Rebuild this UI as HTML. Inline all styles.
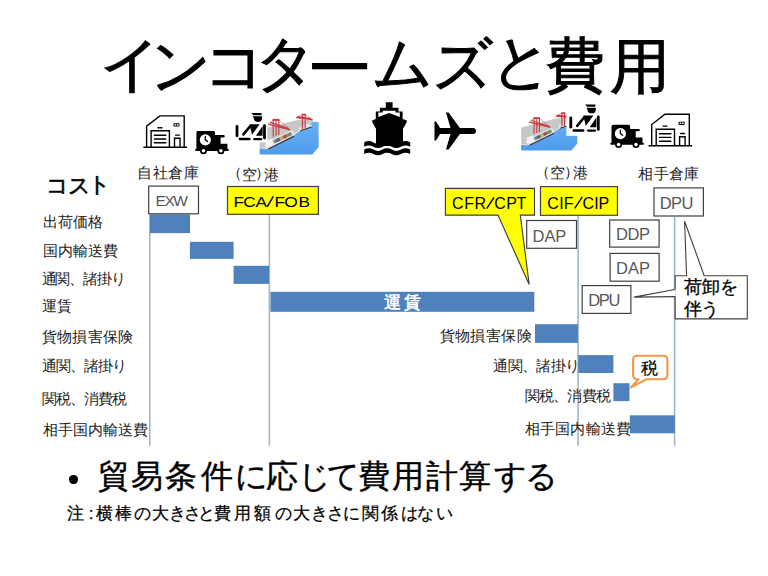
<!DOCTYPE html>
<html lang="ja">
<head>
<meta charset="utf-8">
<style>
html,body{margin:0;padding:0;background:#fff;}
body{width:768px;height:576px;position:relative;overflow:hidden;font-family:"Liberation Sans",sans-serif;color:#000;}
.t,.c{position:absolute;white-space:nowrap;line-height:1;}
.lbl{color:#1c1c1c;}
.bar{position:absolute;background:#4f81bd;}
svg{position:absolute;left:0;top:0;overflow:visible;}
</style>
</head>
<body>

<!-- ICONS -->
<svg style="left:0;top:0" width="768" height="576" viewBox="0 0 768 576">
<defs>
  <linearGradient id="wg" x1="0" y1="0" x2="0" y2="1"><stop offset="0" stop-color="#68b1f6"/><stop offset="1" stop-color="#4f9be9"/></linearGradient>
  <g id="wh" fill="none" stroke="#000" stroke-width="1.4">
    <path d="M0 0 H42.7" stroke-linecap="round"/>
    <path d="M2.7 0 V-21.2 L16 -31.4 H40.3 V0"/>
    <path d="M7.2 0 V-16.5 H25.5 V0"/>
    <path d="M10.5 -12 H21.9 M10.5 -8.3 H21.9 M10.5 -4.5 H21.9 M14 -19.6 H18 M31.6 -12.2 H35.5" stroke-linecap="round"/>
    <path d="M30.6 0 V-9 H36.1 V0"/>
    <rect x="29.6" y="-24" width="6" height="3.2" fill="#000" stroke="none" rx="0.6"/>
    <rect x="30.6" y="-23.1" width="1.7" height="1.4" fill="#fff" stroke="none"/>
    <rect x="33" y="-23.1" width="1.7" height="1.4" fill="#fff" stroke="none"/>
  </g>
  <g id="tr">
    <path d="M0 1.5 Q0 0 1.5 0 H17.1 Q18.6 0 18.6 1.5 V4.1 H27 Q28.4 4.1 28.4 5.3 Q28.4 6.5 27 6.5 H24.2 V12.7 H31 V19.2 H0 Z" fill="#000"/>
    <path d="M-0.2 18.9 H31.4" stroke="#000" stroke-width="2.1" stroke-linecap="round"/>
    <circle cx="7.1" cy="19.8" r="3.5" fill="#000"/>
    <circle cx="24.5" cy="19.8" r="3.5" fill="#000"/>
    <circle cx="7.1" cy="19.8" r="1.8" fill="#fff"/>
    <circle cx="24.5" cy="19.8" r="1.8" fill="#fff"/>
    <circle cx="8.9" cy="8.85" r="5.6" fill="#fff"/>
    <path d="M8.9 5.4 V8.85 L11.2 10.5" stroke="#000" stroke-width="1.3" fill="none" stroke-linecap="round" stroke-linejoin="round"/>
  </g>
  <g id="off" fill="#000">
    <path d="M19.2 3.1 H29.7 L29.4 5.3 H21.4 Z"/>
    <path d="M20.6 6.3 H30 V8 Q30 11.9 25.8 11.9 Q21.7 11.9 21.7 8 Z"/>
    <path d="M17.5 14.2 H27.6 L20 24.7 Z"/>
    <path d="M18.3 16.1 L11.4 24.4" stroke="#000" stroke-width="2.6" stroke-linecap="round"/>
    <path d="M23.9 25.8 H30.6 V16.1 Z"/>
    <rect x="31.1" y="14.2" width="2.8" height="15.2" rx="1.4"/>
    <rect x="3.6" y="15" width="2.8" height="12.2" rx="1.4"/>
    <rect x="6.7" y="27.8" width="11.9" height="2.5" rx="1.2"/>
    <rect x="21.1" y="28.1" width="9.2" height="2.2" rx="1.1"/>
  </g>
  <g id="port">
    <path d="M521.2 127.4 L555.9 118.5 L571.8 117.6 L572.2 119.8 L566.4 122.5 L560 126.8 L553.5 132.2 L526.9 145.1 L521.2 144.3 Z" fill="#c6c7c7"/>
    <path d="M521.2 144.7 V150.4 H571.3 L577.3 143.5 V120 L572.2 119.8 L566.4 123.2 L560 127.8 L553.5 132.6 L526.9 145.6 Z" fill="url(#wg)"/>
    <path d="M526 142.8 L529.5 145.6 L554 133.6 L554.4 130.4 L551.6 127.9 L527.3 139.2 Z" fill="#e6e6e6"/>
    <path d="M529.5 145.3 L554 133.3" stroke="#2e2e2e" stroke-width="1.2"/>
    <path d="M526.8 137.6 L532.6 135.4 L533.4 141.6 L527.5 143.6 Z" fill="#f2f2f2"/>
    <path d="M534.5 138.8 L551.5 130.9" stroke="#7c8a6e" stroke-width="3"/>
    <path d="M537 137.6 L540.5 136" stroke="#5060a0" stroke-width="3"/>
    <path d="M543.5 134.6 L546.5 133.2" stroke="#a85050" stroke-width="3"/>
    <path d="M540.5 136 L543.5 134.6" stroke="#c8b060" stroke-width="3"/>
    <path d="M558.2 125.6 L560 128.5 L570.6 124.9 L570.9 122.6 L565.5 122 Z" fill="#e4e4e4"/>
    <path d="M560 128.3 L570.6 124.7" stroke="#2e2e2e" stroke-width="1"/>
    <g stroke="#c63a40" fill="none" stroke-width="1.1">
      <path d="M529.3 122.1 L550.3 127.4 M531 120.5 L549 126.3"/>
      <path d="M539.6 118.2 L550.3 127.4 M534 118.2 L529.3 122.1" stroke-width="0.6" opacity="0.8"/>
      <path d="M534.1 117.8 V133.8 M539.4 117.8 V132.2 M536.8 118.5 V133"/>
      <path d="M533.6 118.1 H539.9" stroke-width="1.8"/>
      <path d="M555.9 116.1 L571.5 117.8 M557 115 L570 116.8"/>
      <path d="M564.6 113 L571.5 117.8 M561.8 113 L555.9 116.1" stroke-width="0.6" opacity="0.8"/>
      <path d="M561.9 112.6 V126.6 M564.5 112.6 V126"/>
      <path d="M561.4 113.1 H565" stroke-width="1.6"/>
    </g>
  </g>
</defs>
<use href="#port" transform="matrix(1.0506 0 0 1.0708 -287.90 -6.60)"/>
<use href="#port"/>
<rect x="232" y="106" width="35.3" height="36.3" fill="#fff"/>
<rect x="566.4" y="100" width="36" height="35.8" fill="#fff"/>
<use href="#wh" transform="translate(143.9 147.3)"/>
<use href="#wh" transform="translate(649 145.7)"/>
<use href="#tr" transform="translate(196.4 131)"/>
<use href="#tr" transform="translate(611.5 124.8)"/>
<use href="#off" transform="translate(232 110)"/>
<use href="#off" transform="translate(565.8 101.4)"/>
<!-- ship -->
<path d="M385.8 102.3 H392.6 V107.8 H398.5 V111.4 H402.6 V118.9 L406.9 120.6 L406.5 122.8 L403 128.8 V146 H376 V128.8 L372.5 122.8 L372.1 120.6 L375.8 118.9 V111.4 H379.9 V107.8 H385.8 Z" fill="#000"/>
<path d="M382.8 110.7 H395.5 V112.4 H399.8 V116.9 L389.1 113 L378.3 116.9 V112.4 H382.8 Z" fill="#fff"/>
<path d="M364.2 142.4 Q368.8 139.8 373.4 142.4 T382.6 142.4 T391.8 142.4 T401 142.4 T410.2 142.4 V146.8 Q405.6 144.2 401 146.8 T391.8 146.8 T382.6 146.8 T373.4 146.8 T364.2 146.8 Z" fill="#000"/>
<path d="M364.2 149.6 Q368.8 147 373.4 149.6 T382.6 149.6 T391.8 149.6 T401 149.6 T410.2 149.6 V154 Q405.6 151.4 401 154 T391.8 154 T382.6 154 T373.4 154 T364.2 154 Z" fill="#000"/>
<!-- plane -->
<path d="M434.5 121.8 Q434.5 121.4 435.2 121.4 H436 L440 128.1 H450.5 L446 112.4 H448.6 L459.9 128.1 H473 A2.95 2.95 0 0 1 473 134 H459.9 L448.6 149.6 H446 L450.5 134 H440 L436 140.6 H435.2 Q434.5 140.6 434.5 140.2 Z" fill="#000"/>
</svg>


<svg width="768" height="576">
<line x1="149.8" y1="214" x2="149.8" y2="445.8" stroke="#a2b6c8" stroke-width="1.6"/>
<line x1="269.4" y1="215" x2="269.4" y2="445.8" stroke="#a2b6c8" stroke-width="1.6"/>
<line x1="578.1" y1="215.5" x2="578.1" y2="445.8" stroke="#a2b6c8" stroke-width="1.6"/>
<line x1="674.6" y1="216.5" x2="674.6" y2="445.8" stroke="#a2b6c8" stroke-width="1.6"/>
</svg>
<svg width="768" height="576">
<rect x="150" y="214.4" width="40.00" height="18.70" fill="#4f81bd"/>
<rect x="189.9" y="241.8" width="43.70" height="17.10" fill="#4f81bd"/>
<rect x="233.6" y="265.8" width="35.40" height="18.10" fill="#4f81bd"/>
<rect x="270.5" y="291.8" width="263.80" height="20.00" fill="#4f81bd"/>
<rect x="535" y="324.2" width="42.90" height="18.70" fill="#4f81bd"/>
<rect x="578.3" y="355.1" width="35.10" height="17.90" fill="#4f81bd"/>
<rect x="613.4" y="383.2" width="16.10" height="17.90" fill="#4f81bd"/>
<rect x="629.8" y="415.3" width="45.00" height="18.00" fill="#4f81bd"/>
</svg>
<svg width="768" height="576">
<rect x="148.70" y="186.10" width="49.80" height="27.70" fill="#fff" stroke="#404040" stroke-width="1.2"/>
<rect x="227.50" y="186.50" width="90.90" height="27.80" fill="#ffff00" stroke="#404040" stroke-width="1.2"/>
<rect x="540.50" y="186.60" width="76.95" height="28.70" fill="#ffff00" stroke="#404040" stroke-width="1.2"/>
<rect x="654.00" y="187.90" width="49.40" height="28.10" fill="#fff" stroke="#404040" stroke-width="1.2"/>
<rect x="526.70" y="220.50" width="49.80" height="27.80" fill="#fff" stroke="#404040" stroke-width="1.2"/>
<rect x="609.70" y="220.00" width="49.40" height="27.10" fill="#fff" stroke="#404040" stroke-width="1.2"/>
<rect x="610.10" y="253.40" width="49.00" height="27.80" fill="#fff" stroke="#404040" stroke-width="1.2"/>
<rect x="582.20" y="285.60" width="48.70" height="27.80" fill="#fff" stroke="#404040" stroke-width="1.2"/>
<path d="M445.4 188.4 H534.5 V215.1 H520.3 L529.2 284.6 L498 215.1 H445.4 Z" fill="#ffff00" stroke="#3a3a3a" stroke-width="1.1" stroke-linejoin="miter"/>
<path d="M686.6 276 L684.6 221.2 L704.3 276" fill="#fff" stroke="#404040" stroke-width="1.1"/>
<path d="M675 289.5 L633.9 297.1 L675 296.6" fill="#fff" stroke="#404040" stroke-width="1.1"/>
<path d="M675.1 289.2 V275.7 H686.6 M704.3 275.7 H747.3 V318.9 H675.1 V296.6" fill="none" stroke="#404040" stroke-width="1.1"/>
<path d="M637.3 355.8 H663.2 Q667.4 355.8 667.4 360 V375 Q667.4 379.2 663.2 379.2 H646.5 L631 387.4 L638.6 379.2 H637.3 Q633.1 379.2 633.1 375 V360 Q633.1 355.8 637.3 355.8 Z" fill="#fff" stroke="#ee9a4c" stroke-width="2.1" stroke-linejoin="round"/>
</svg>
<span class="c" style="left:99.95px;top:34.75px;font-size:60px;-webkit-text-stroke:1px #000;">イ</span>
<span class="c" style="left:149.90px;top:35.85px;font-size:60px;-webkit-text-stroke:1px #000;">ン</span>
<span class="c" style="left:204.30px;top:36.20px;font-size:60px;-webkit-text-stroke:1px #000;">コ</span>
<span class="c" style="left:255.35px;top:33.85px;font-size:60px;-webkit-text-stroke:1px #000;">タ</span>
<span class="c" style="left:309.85px;top:38.90px;font-size:60px;transform:scaleX(1.12);transform-origin:30px 30px;">ー</span>
<span class="c" style="left:371.95px;top:34.40px;font-size:60px;-webkit-text-stroke:1px #000;">ム</span>
<span class="c" style="left:431.85px;top:34.60px;font-size:60px;-webkit-text-stroke:1px #000;">ズ</span>
<span class="c" style="left:491.20px;top:31.90px;font-size:60px;-webkit-text-stroke:1px #000;">と</span>
<span class="c" style="left:544.95px;top:35.85px;font-size:60px;-webkit-text-stroke:1px #000;">費</span>
<span class="c" style="left:610.40px;top:37.05px;font-size:60px;-webkit-text-stroke:1px #000;">用</span>
<span class="c" style="left:45.55px;top:175.30px;font-size:22px;-webkit-text-stroke:0.6px #000;">コ</span>
<span class="c" style="left:68.00px;top:175.30px;font-size:22px;-webkit-text-stroke:0.6px #000;">ス</span>
<span class="c" style="left:87.50px;top:174.30px;font-size:22px;-webkit-text-stroke:0.6px #000;">ト</span>
<div class="t lbl" style="left:137.40px;top:165.30px;font-size:15px;letter-spacing:0.43px;">自社倉庫</div>
<div class="t lbl" style="left:638.30px;top:165.65px;font-size:15px;letter-spacing:0.37px;">相手倉庫</div>
<span class="c" style="left:226.75px;top:166.00px;font-size:14.5px;color:#1c1c1c;">（</span>
<span class="c" style="left:241.60px;top:168.15px;font-size:14.5px;color:#1c1c1c;">空</span>
<span class="c" style="left:254.85px;top:166.00px;font-size:14.5px;color:#1c1c1c;">）</span>
<span class="c" style="left:264.45px;top:167.65px;font-size:14.5px;color:#1c1c1c;">港</span>
<span class="c" style="left:535.40px;top:164.50px;font-size:14.5px;color:#1c1c1c;">（</span>
<span class="c" style="left:550.25px;top:166.35px;font-size:14.5px;color:#1c1c1c;">空</span>
<span class="c" style="left:563.65px;top:164.50px;font-size:14.5px;color:#1c1c1c;">）</span>
<span class="c" style="left:573.25px;top:165.85px;font-size:14.5px;color:#1c1c1c;">港</span>
<div class="t lbl" style="left:42.75px;top:214.20px;font-size:15px;letter-spacing:0.15px;">出荷価格</div>
<div class="t lbl" style="left:43.00px;top:243.05px;font-size:15px;letter-spacing:-0.07px;">国内輸送費</div>
<div class="t lbl" style="left:41.50px;top:270.55px;font-size:15px;letter-spacing:-1.14px;">通関、諸掛り</div>
<div class="t lbl" style="left:41.50px;top:298.45px;font-size:15px;letter-spacing:0.90px;">運賃</div>
<div class="t lbl" style="left:41.80px;top:328.75px;font-size:15px;letter-spacing:0.30px;">貨物損害保険</div>
<div class="t lbl" style="left:42.00px;top:358.45px;font-size:15px;letter-spacing:-0.96px;">通関、諸掛り</div>
<div class="t lbl" style="left:42.00px;top:390.60px;font-size:15px;letter-spacing:-0.92px;">関税、消費税</div>
<div class="t lbl" style="left:43.00px;top:422.05px;font-size:15px;letter-spacing:0.07px;">相手国内輸送費</div>
<div class="t lbl" style="left:439.70px;top:328.15px;font-size:15px;letter-spacing:0.38px;">貨物損害保険</div>
<div class="t lbl" style="left:493.20px;top:358.15px;font-size:15px;letter-spacing:-0.59px;">通関、諸掛り</div>
<div class="t lbl" style="left:524.80px;top:387.85px;font-size:15px;letter-spacing:-0.80px;">関税、消費税</div>
<div class="t lbl" style="left:525.40px;top:420.65px;font-size:15px;letter-spacing:0.03px;">相手国内輸送費</div>
<div class="t" style="left:155.60px;top:193.35px;font-size:15.5px;letter-spacing:-1.50px;color:#575757;">EXW</div>
<div class="t" style="left:532.60px;top:227.90px;font-size:16.5px;letter-spacing:-0.10px;color:#575757;">DAP</div>
<div class="t" style="left:659.70px;top:195.15px;font-size:16.5px;letter-spacing:-0.55px;color:#575757;">DPU</div>
<div class="t" style="left:616.00px;top:226.40px;font-size:16.5px;letter-spacing:-0.40px;color:#575757;">DDP</div>
<div class="t" style="left:616.00px;top:259.90px;font-size:16.5px;letter-spacing:0.10px;color:#575757;">DAP</div>
<div class="t" style="left:588.30px;top:292.05px;font-size:16.5px;letter-spacing:-1.40px;color:#575757;">DPU</div>
<div class="t" style="left:383.60px;top:293.50px;font-size:17px;letter-spacing:3.30px;font-weight:bold;color:#fff;">運賃</div>
<span class="c" style="left:684.10px;top:278.10px;font-size:18px;-webkit-text-stroke:0.3px #000;">荷</span>
<span class="c" style="left:702.05px;top:278.10px;font-size:18px;-webkit-text-stroke:0.3px #000;">卸</span>
<span class="c" style="left:719.75px;top:278.10px;font-size:18px;-webkit-text-stroke:0.3px #000;">を</span>
<span class="c" style="left:683.55px;top:299.70px;font-size:18px;-webkit-text-stroke:0.3px #000;">伴</span>
<span class="c" style="left:700.50px;top:299.70px;font-size:18px;-webkit-text-stroke:0.3px #000;">う</span>
<span class="c" style="left:640.65px;top:359.80px;font-size:17px;-webkit-text-stroke:0.2px #000;">税</span>
<div style="position:absolute;left:69.2px;top:475.3px;width:8.4px;height:8.4px;border-radius:50%;background:#000"></div>
<span class="c" style="left:97.50px;top:459.60px;font-size:32px;-webkit-text-stroke:0.4px #000;">貿</span>
<span class="c" style="left:131.05px;top:459.60px;font-size:32px;-webkit-text-stroke:0.4px #000;">易</span>
<span class="c" style="left:165.45px;top:459.60px;font-size:32px;-webkit-text-stroke:0.4px #000;">条</span>
<span class="c" style="left:200.60px;top:459.60px;font-size:32px;-webkit-text-stroke:0.4px #000;">件</span>
<span class="c" style="left:234.50px;top:459.60px;font-size:32px;-webkit-text-stroke:0.4px #000;">に</span>
<span class="c" style="left:265.75px;top:459.60px;font-size:32px;-webkit-text-stroke:0.4px #000;">応</span>
<span class="c" style="left:297.70px;top:459.60px;font-size:32px;-webkit-text-stroke:0.4px #000;">じ</span>
<span class="c" style="left:326.90px;top:459.60px;font-size:32px;-webkit-text-stroke:0.4px #000;">て</span>
<span class="c" style="left:357.90px;top:459.60px;font-size:32px;-webkit-text-stroke:0.4px #000;">費</span>
<span class="c" style="left:391.70px;top:459.60px;font-size:32px;-webkit-text-stroke:0.4px #000;">用</span>
<span class="c" style="left:425.85px;top:459.60px;font-size:32px;-webkit-text-stroke:0.4px #000;">計</span>
<span class="c" style="left:459.45px;top:459.60px;font-size:32px;-webkit-text-stroke:0.4px #000;">算</span>
<span class="c" style="left:493.60px;top:459.60px;font-size:32px;-webkit-text-stroke:0.4px #000;">す</span>
<span class="c" style="left:525.10px;top:459.60px;font-size:32px;-webkit-text-stroke:0.4px #000;">る</span>
<span class="c" style="left:67.20px;top:505.30px;font-size:17px;-webkit-text-stroke:0.25px #000;">注</span>
<span class="c" style="left:88.80px;top:505.30px;font-size:17px;-webkit-text-stroke:0.25px #000;">:</span>
<span class="c" style="left:96.00px;top:505.30px;font-size:17px;-webkit-text-stroke:0.25px #000;">横</span>
<span class="c" style="left:115.00px;top:505.30px;font-size:17px;-webkit-text-stroke:0.25px #000;">棒</span>
<span class="c" style="left:133.90px;top:505.30px;font-size:17px;-webkit-text-stroke:0.25px #000;">の</span>
<span class="c" style="left:151.85px;top:505.30px;font-size:17px;-webkit-text-stroke:0.25px #000;">大</span>
<span class="c" style="left:168.65px;top:505.30px;font-size:17px;-webkit-text-stroke:0.25px #000;">き</span>
<span class="c" style="left:184.10px;top:505.30px;font-size:17px;-webkit-text-stroke:0.25px #000;">さ</span>
<span class="c" style="left:197.90px;top:505.30px;font-size:17px;-webkit-text-stroke:0.25px #000;">と</span>
<span class="c" style="left:214.35px;top:505.30px;font-size:17px;-webkit-text-stroke:0.25px #000;">費</span>
<span class="c" style="left:233.75px;top:505.30px;font-size:17px;-webkit-text-stroke:0.25px #000;">用</span>
<span class="c" style="left:254.30px;top:505.30px;font-size:17px;-webkit-text-stroke:0.25px #000;">額</span>
<span class="c" style="left:274.60px;top:505.30px;font-size:17px;-webkit-text-stroke:0.25px #000;">の</span>
<span class="c" style="left:293.48px;top:505.30px;font-size:17px;-webkit-text-stroke:0.25px #000;">大</span>
<span class="c" style="left:311.05px;top:505.30px;font-size:17px;-webkit-text-stroke:0.25px #000;">き</span>
<span class="c" style="left:327.25px;top:505.30px;font-size:17px;-webkit-text-stroke:0.25px #000;">さ</span>
<span class="c" style="left:342.65px;top:505.30px;font-size:17px;-webkit-text-stroke:0.25px #000;">に</span>
<span class="c" style="left:361.80px;top:505.30px;font-size:17px;-webkit-text-stroke:0.25px #000;">関</span>
<span class="c" style="left:380.70px;top:505.30px;font-size:17px;-webkit-text-stroke:0.25px #000;">係</span>
<span class="c" style="left:400.60px;top:505.30px;font-size:17px;-webkit-text-stroke:0.25px #000;">は</span>
<span class="c" style="left:417.20px;top:505.30px;font-size:17px;-webkit-text-stroke:0.25px #000;">な</span>
<span class="c" style="left:435.70px;top:505.30px;font-size:17px;-webkit-text-stroke:0.25px #000;">い</span>
<span class="c" style="left:233.70px;top:193.50px;font-size:15.5px;transform:scaleX(1.12);">F</span>
<span class="c" style="left:243.90px;top:193.50px;font-size:15.5px;transform:scaleX(1.12);">C</span>
<span class="c" style="left:255.80px;top:193.50px;font-size:15.5px;transform:scaleX(1.12);">A</span>
<span class="c" style="left:275.30px;top:193.50px;font-size:15.5px;transform:scaleX(1.12);">F</span>
<span class="c" style="left:284.73px;top:193.50px;font-size:15.5px;transform:scaleX(1.12);">O</span>
<span class="c" style="left:298.95px;top:193.50px;font-size:15.5px;transform:scaleX(1.12);">B</span>
<svg width="768" height="576"><line x1="267.3" y1="206.6" x2="273.3" y2="196.3" stroke="#000" stroke-width="1.45"/></svg>
<span class="c" style="left:451.90px;top:196.00px;font-size:16px;">C</span>
<span class="c" style="left:464.20px;top:196.00px;font-size:16px;">F</span>
<span class="c" style="left:474.50px;top:196.00px;font-size:16px;">R</span>
<span class="c" style="left:494.35px;top:196.00px;font-size:16px;">C</span>
<span class="c" style="left:506.30px;top:196.00px;font-size:16px;">P</span>
<span class="c" style="left:516.55px;top:196.00px;font-size:16px;">T</span>
<svg width="768" height="576"><line x1="486.7" y1="208.5" x2="494.1" y2="197.4" stroke="#000" stroke-width="1.4"/></svg>
<span class="c" style="left:547.20px;top:195.60px;font-size:16px;">C</span>
<span class="c" style="left:559.35px;top:195.60px;font-size:16px;">I</span>
<span class="c" style="left:563.80px;top:195.60px;font-size:16px;">F</span>
<span class="c" style="left:582.55px;top:195.60px;font-size:16px;">C</span>
<span class="c" style="left:594.15px;top:195.60px;font-size:16px;">I</span>
<span class="c" style="left:598.40px;top:195.60px;font-size:16px;">P</span>
<svg width="768" height="576"><line x1="574.7" y1="208.3" x2="582.3" y2="196.9" stroke="#000" stroke-width="1.4"/></svg>
</body>
</html>
